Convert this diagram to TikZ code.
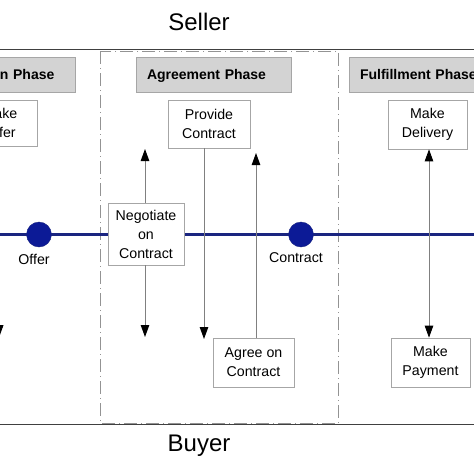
\documentclass[tikz,border=0pt]{standalone}
\usepackage{fontspec}
\setmainfont{Liberation Sans}
\usetikzlibrary{arrows.meta}
\definecolor{lineblue}{HTML}{1A2580}
\definecolor{dotblue}{HTML}{0C1A96}
\definecolor{phasegray}{HTML}{D3D3D3}
\definecolor{boxgray}{HTML}{A6A6A6}
\definecolor{shaftgray}{HTML}{808080}
\tikzset{
  tip/.tip={Triangle[length=12pt,width=8.5pt,fill=black,color=black]},
  phasebox/.style={draw=boxgray, fill=phasegray, line width=0.8pt, minimum height=35pt,
    text width=133pt, inner xsep=11pt, align=left, text height=11pt, text depth=1pt,
    font=\fontsize{14}{16}\selectfont\bfseries},
  actbox/.style={draw=boxgray, fill=white, line width=0.7pt, align=center, inner sep=0pt,
    font=\fontsize{14.2}{19}\selectfont},
  evdot/.style={circle, fill=dotblue, draw=lineblue, minimum size=25pt, inner sep=0pt},
  evlabel/.style={font=\fontsize{14.2}{16}\selectfont},
  flow/.style={draw=shaftgray, line width=0.9pt, -tip},
  bothflow/.style={draw=shaftgray, line width=0.9pt, tip-tip},
  border/.style={draw=black!75, line width=0.8pt},
  phaseline/.style={draw=gray!85, line width=0.8pt, dash pattern=on 13pt off 4pt on 1pt off 4pt},
  partylabel/.style={font=\fontsize{24}{28}\selectfont}
}
\begin{document}
\begin{tikzpicture}[x=1pt,y=1pt]
\useasboundingbox (0,0) rectangle (474,-474);
\clip (0,0) rectangle (474,-474);
% party labels
\node[partylabel] (seller) at (199,-22) {Seller};
\node[partylabel] (buyer) at (199,-446) {Buyer};
% borders
\coordinate (topl) at (0,-49.5);
\coordinate (topr) at (474,-49.5);
\coordinate (botl) at (0,-424.5);
\coordinate (botr) at (474,-424.5);
\draw[border] (topl) -- (topr);
\draw[border] (botl) -- (botr);
% agreement phase region
\coordinate (ra) at (100,-51);
\coordinate (rb) at (338.5,-423);
\draw[phaseline] (ra) rectangle (rb);
% phase headers
\node[phasebox] (negph) at (-2,-74.5) {Negotiation Phase};
\node[phasebox] (agrph) at (213.5,-74.5) {Agreement Phase};
\node[phasebox] (fulph) at (426.5,-74.5) {Fulfillment Phase};
% timeline
\coordinate (tl) at (0,-234.5);
\coordinate (tr) at (474,-234.5);
\draw[lineblue, line width=2.3pt] (tl) -- (tr);
% activity boxes
\node[actbox, minimum width=74pt, minimum height=46pt] (offer) at (0,-123) {Make\\Offer};
\node[actbox, minimum width=82pt, minimum height=48pt] (provide) at (209,-124) {Provide\\Contract};
\node[actbox, minimum width=79pt, minimum height=49pt] (delivery) at (427.5,-124.5) {Make\\Delivery};
\node[actbox, minimum width=76pt, minimum height=62pt] (negot) at (146,-234) {Negotiate\\on\\Contract};
\node[actbox, minimum width=81pt, minimum height=49pt] (agree) at (253.5,-362.5) {Agree on\\Contract};
\node[actbox, minimum width=79pt, minimum height=49pt] (payment) at (430.5,-362.5) {Make\\Payment};
% events
\node[evdot] (offerdot) at (39,-234.5) {};
\node[evlabel] (offerlab) at (34,-259) {Offer};
\node[evdot] (contractdot) at (301,-234.5) {};
\node[evlabel] (contractlab) at (296,-258) {Contract};
% arrows
\coordinate (offerend) at (-0.8,-337);
\coordinate (negup) at (145,-149);
\coordinate (negdown) at (145,-337);
\coordinate (provend) at (204,-339);
\coordinate (agreeend) at (256,-153);
\coordinate (delx) at (429,0);
\draw[flow] (offer.south -| offerend) -- (offerend);
\draw[flow] (negot.north -| negup) -- (negup);
\draw[flow] (negot.south -| negdown) -- (negdown);
\draw[flow] (provide.south -| provend) -- (provend);
\draw[flow] (agree.north -| agreeend) -- (agreeend);
\draw[bothflow] (delivery.south -| delx) -- (payment.north -| delx);
\end{tikzpicture}
\end{document}
